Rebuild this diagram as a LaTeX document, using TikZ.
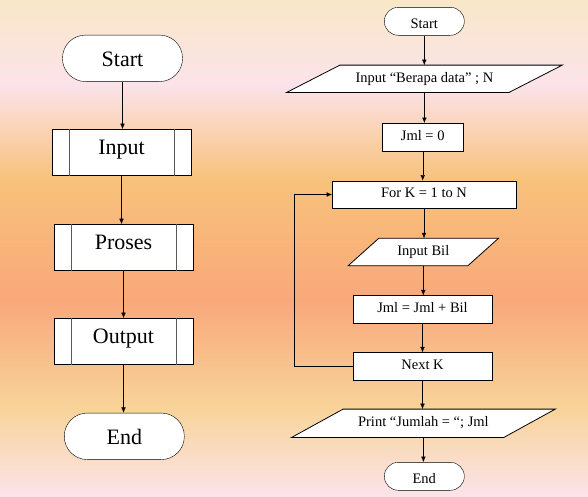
\documentclass[tikz,border=0pt]{standalone}
\usepackage{fontspec}
\setmainfont{Liberation Serif}
\usetikzlibrary{arrows.meta}
\pgfdeclarelayer{under}
\pgfsetlayers{under,main}
\definecolor{bgcream}{HTML}{F9E7C8}
\definecolor{bgpink}{HTML}{FBE3EA}
\definecolor{bgorange}{HTML}{F8C27B}
\definecolor{bgsalmon}{HTML}{F9A87A}
\definecolor{bglight}{HTML}{F8D49B}
\tikzset{
  big/.style={font=\fontsize{22pt}{26pt}\selectfont},
  small/.style={font=\fontsize{14.5pt}{17pt}\selectfont},
  termL/.style={big, draw, fill=white, inner sep=0pt, minimum width=120pt, minimum height=46.5pt, rounded corners=23pt, text height=17pt, text depth=0pt},
  subL/.style={big, draw, fill=white, inner sep=0pt, minimum width=138.4pt, minimum height=46pt, text height=15pt, text depth=11pt},
  termR/.style={small, draw, fill=white, inner sep=0pt, minimum width=80pt, minimum height=28pt, rounded corners=14pt, text height=14pt, text depth=0pt},
  procR/.style={small, draw, fill=white, inner sep=0pt, minimum height=27.5pt, text height=11pt, text depth=4.5pt},
  ioR/.style={small, inner sep=0pt, minimum height=27pt, text height=11pt, text depth=4.5pt},
  arr/.style={-{Latex[length=5.5pt,width=4.5pt]}}
}
\begin{document}
\begin{tikzpicture}[x=1pt,y=-1pt,line width=0.8pt]
  \useasboundingbox (0,0) rectangle (588,496);
  \begin{pgfonlayer}{under}
    \foreach \ya/\yb/\ca/\cb in {0/85/bgcream/bgpink, 84.5/180/bgpink/bgorange, 179.5/300/bgorange/bgsalmon, 299.5/410/bgsalmon/bglight, 409.5/496/bglight/bgpink}
      \shade[top color=\ca, bottom color=\cb] (0,\ya) rectangle (588,\yb);
  \end{pgfonlayer}
  % left chart
  \node[termL] (startL) at (122.5,58.3) {Start};
  \node[subL] (input) at (121.5,152.3) {Input};
  \node[subL] (proses) at (123.5,247.3) {Proses};
  \node[subL] (output) at (123.5,341.3) {Output};
  \node[termL] (endL) at (124.3,436.3) {End};
  \foreach \n in {input,proses,output}
    \draw[gray!70!black] ([xshift=17pt]\n.north west) -- ([xshift=17pt]\n.south west)
      ([xshift=-17pt]\n.north east) -- ([xshift=-17pt]\n.south east);
  \foreach \a/\b in {startL/input,input/proses,proses/output,output/endL}
    \draw[arr] (\a.south) -- (\a.south |- \b.north);
  % right chart
  \node[termR] (startR) at (424.3,21.3) {Start};
  \node[ioR, minimum width=222pt] (inp) at (424.4,78.8) {Input “Berapa data” ; N};
  \node[procR, minimum width=81.3pt] (jml0) at (422.7,137) {Jml = 0};
  \node[procR, minimum width=183.4pt] (fork) at (424,194.5) {For K = 1 to N};
  \node[ioR, minimum width=119.3pt] (bil) at (423.3,252) {Input Bil};
  \node[procR, minimum width=138.4pt] (jmlbil) at (422.5,309.3) {Jml = Jml + Bil};
  \node[procR, minimum width=138.4pt] (nextk) at (422.5,366.3) {Next K};
  \node[ioR, minimum width=211.8pt, minimum height=28pt] (prt) at (423.4,423.3) {Print “Jumlah = “; Jml};
  \node[termR] (endR) at (424.3,476.3) {End};
  \begin{pgfonlayer}{under}
    \foreach \n/\s in {inp/26.7,bil/15.3,prt/25.8}
      \filldraw[fill=white, line width=0.8pt] ([xshift=\s pt]\n.north west) -- ([xshift=\s pt]\n.north east)
        -- ([xshift=-\s pt]\n.south east) -- ([xshift=-\s pt]\n.south west) -- cycle;
  \end{pgfonlayer}
  \foreach \a/\b in {startR/inp,inp/jml0,jml0/fork,fork/bil,bil/jmlbil,jmlbil/nextk,nextk/prt,prt/endR}
    \draw[arr] (\a.south) -- (\a.south |- \b.north);
  \draw[arr] (nextk.west) -- ++(-58.5,0) |- (fork.west);
\end{tikzpicture}
\end{document}
